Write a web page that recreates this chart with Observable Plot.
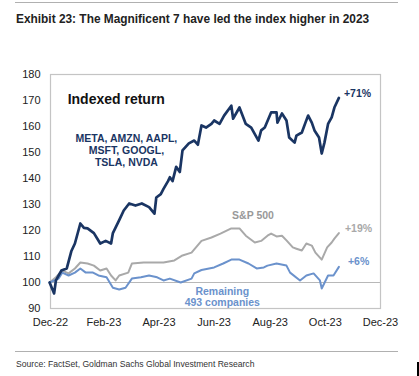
<!DOCTYPE html>
<html>
<head>
<meta charset="utf-8">
<script src="https://cdn.jsdelivr.net/npm/d3@7"></script>
<script src="https://cdn.jsdelivr.net/npm/@observablehq/plot@0.6"></script>
<style>
  html, body { margin: 0; padding: 0; background: #fff; }
  body { width: 419px; height: 376px; position: relative; overflow: hidden; font-family: "Liberation Sans", Arial, sans-serif; }
  #topRule { position: absolute; left: 15px; top: 2px; width: 383px; height: 0; border-top: 1px solid #b0b0b0; }
  #title { position: absolute; left: 16px; top: 12px; font-family: "Liberation Sans", Arial, sans-serif; font-weight: bold; font-size: 12px; color: #222; white-space: nowrap; transform: scaleX(0.99); transform-origin: left top; }
  #chart { position: absolute; left: 0; top: 30px; }
  #botRule { position: absolute; left: 15px; top: 351px; width: 383px; height: 0; border-top: 1px solid #b0b0b0; }
  #source { position: absolute; left: 16px; top: 358px; font-family: "Liberation Sans", Arial, sans-serif; font-size: 9.5px; color: #333; white-space: nowrap; transform: scaleX(0.905); transform-origin: left top; }
  #edge { position: absolute; left: 417px; top: 362px; width: 2px; height: 14px; background: #000; }
</style>
</head>
<body>
<div id="topRule"></div>
<div id="title">Exhibit 23: The Magnificent 7 have led the index higher in 2023</div>
<div id="chart"></div>
<div id="botRule"></div>
<div id="source">Source: FactSet, Goldman Sachs Global Investment Research</div>
<div id="edge"></div>
<script>
// ---- data ----
const mag7Dates = ["2022-12-30","2023-01-04","2023-01-06","2023-01-12","2023-01-18","2023-01-23","2023-01-27","2023-02-02","2023-02-06","2023-02-10","2023-02-17","2023-02-24","2023-03-02","2023-03-08","2023-03-10","2023-03-17","2023-03-22","2023-03-28","2023-04-04","2023-04-11","2023-04-19","2023-04-25","2023-04-27","2023-05-02","2023-05-05","2023-05-10","2023-05-12","2023-05-15","2023-05-19","2023-05-23","2023-05-26","2023-06-02","2023-06-08","2023-06-12","2023-06-16","2023-06-21","2023-06-27","2023-06-30","2023-07-06","2023-07-11","2023-07-19","2023-07-21","2023-07-28","2023-08-04","2023-08-10","2023-08-18","2023-08-21","2023-08-25","2023-09-01","2023-09-07","2023-09-08","2023-09-13","2023-09-18","2023-09-21","2023-09-27","2023-09-29","2023-10-05","2023-10-09","2023-10-12","2023-10-16","2023-10-19","2023-10-24","2023-10-27","2023-10-30","2023-11-03","2023-11-07","2023-11-10","2023-11-15"];
const mag7Values = [100,95.8,100.8,104.6,105.4,112,115,122.7,121,120.8,119,115,116,115,119,124,127.7,130.4,129.6,130.4,129,126.5,132.7,134,136,139,140.5,139,144.5,142.5,150.8,153.5,154.6,153,160.4,159.6,161,162.3,161,164.2,168,163,167.3,161,159.6,154.6,158.5,159.6,165.4,165.4,161.5,165,162.3,155.8,153.8,156.5,157.7,161.5,164.2,161.5,158.5,155.8,149.6,153.8,161,163.5,167.3,171];

const spxDates = ["2022-12-30","2023-01-06","2023-01-13","2023-01-20","2023-01-27","2023-02-02","2023-02-10","2023-02-17","2023-02-24","2023-03-03","2023-03-08","2023-03-13","2023-03-17","2023-03-27","2023-03-31","2023-04-13","2023-04-24","2023-05-05","2023-05-17","2023-05-26","2023-06-05","2023-06-16","2023-06-27","2023-07-07","2023-07-19","2023-07-28","2023-08-04","2023-08-14","2023-08-21","2023-08-28","2023-09-01","2023-09-07","2023-09-13","2023-09-18","2023-09-25","2023-09-29","2023-10-05","2023-10-10","2023-10-16","2023-10-20","2023-10-27","2023-11-02","2023-11-07","2023-11-10","2023-11-15"];
const spxValues = [100,102,104.6,103.5,105.4,107.7,107.3,106.5,104.6,105.4,102.7,100.8,102.7,103.8,107.3,107.7,107.7,107.7,108.5,110.4,111.5,116,117.3,118.8,120.8,120.8,118,115.4,116,118,118.8,117.7,118,116.2,113.5,113,112.3,115,114.2,111.5,108.8,113.5,115.4,116.9,119];

const restDates = ["2022-12-30","2023-01-09","2023-01-13","2023-01-20","2023-01-27","2023-02-02","2023-02-08","2023-02-16","2023-02-22","2023-03-03","2023-03-10","2023-03-17","2023-03-24","2023-03-31","2023-04-10","2023-04-19","2023-04-28","2023-05-05","2023-05-12","2023-05-24","2023-06-05","2023-06-08","2023-06-16","2023-06-30","2023-07-10","2023-07-19","2023-07-28","2023-08-07","2023-08-16","2023-08-24","2023-08-28","2023-09-07","2023-09-18","2023-09-22","2023-10-03","2023-10-10","2023-10-18","2023-10-25","2023-10-27","2023-11-03","2023-11-09","2023-11-15"];
const restValues = [100,101.5,103.8,102.7,103.8,105.4,103.8,103.8,102.7,102,98,97.3,98,101.5,102,102.7,102,100.8,101.5,100,101.5,103.5,104.8,105.8,107.3,108.8,108.8,107.3,105.4,105.8,106.5,107.3,106.5,103.8,100.8,102.7,103.5,100.8,97.7,102.7,102.7,106];

const xTickDates = ["2022-12-31","2023-02-28","2023-04-30","2023-06-30","2023-08-31","2023-10-31","2023-12-31"];
const yTicks = [90,100,110,120,130,140,150,160,170,180];
const endLabels = ["+71%", "+19%", "+6%"];

// annotation positions (data space) and texts
const titleNote = {date: "2023-01-19", value: 170.4, text: "Indexed return"};
const mag7Note = {date: "2023-03-25", value: 150.8, text: "META, AMZN, AAPL,\nMSFT, GOOGL,\nTSLA, NVDA"};
const spxNote = {date: "2023-08-12", value: 125.8, text: "S&P 500"};
const restNote = {date: "2023-07-09", value: 94.4, text: "Remaining\n493 companies"};

// ---- build ----
const parse = d3.utcParse("%Y-%m-%d");
const mk = (dates, values) => dates.map((d, i) => ({date: parse(d), value: values[i]}));
const mag7 = mk(mag7Dates, mag7Values);
const spx = mk(spxDates, spxValues);
const rest = mk(restDates, restValues);

const navy = "#1a3563", grey = "#a9a9a9", light = "#6b92cc";
const notePt = n => [{date: parse(n.date), value: n.value, text: n.text}];
const lastPt = (arr, label) => [{...arr[arr.length - 1], text: label}];

const chart = Plot.plot({
  width: 419,
  height: 305,
  marginLeft: 50,
  marginRight: 39,
  marginTop: 44,
  marginBottom: 27,
  style: {fontFamily: "'Liberation Sans', Arial, sans-serif", fontSize: "11px", color: "#222", background: "#fff"},
  x: {type: "utc", domain: [parse(xTickDates[0]), parse(xTickDates[xTickDates.length - 1])]},
  y: {domain: [90, 180]},
  marks: [
    Plot.ruleY([100], {stroke: "#b8b8b8", strokeWidth: 1}),
    Plot.frame({stroke: "#c4c4c4", strokeWidth: 1.2}),
    Plot.axisY({ticks: yTicks, tickSize: 0, tickPadding: 10, label: null, fontSize: 11}),
    Plot.axisX({ticks: xTickDates.map(parse), tickFormat: d3.utcFormat("%b-%y"), tickSize: 0, tickPadding: 10, label: null, fontSize: 11}),
    Plot.line(spx, {x: "date", y: "value", stroke: grey, strokeWidth: 2, curve: "linear"}),
    Plot.line(rest, {x: "date", y: "value", stroke: light, strokeWidth: 2, curve: "linear"}),
    Plot.line(mag7, {x: "date", y: "value", stroke: navy, strokeWidth: 2.7, curve: "linear"}),
    Plot.text(lastPt(mag7, endLabels[0]), {x: "date", y: "value", text: "text", textAnchor: "start", dx: 5, dy: -4, fill: navy, fontWeight: "bold", fontSize: 10.5}),
    Plot.text(lastPt(spx, endLabels[1]), {x: "date", y: "value", text: "text", textAnchor: "start", dx: 6, dy: -4, fill: grey, fontWeight: "bold", fontSize: 10.5}),
    Plot.text(lastPt(rest, endLabels[2]), {x: "date", y: "value", text: "text", textAnchor: "start", dx: 9, dy: -5, fill: light, fontWeight: "bold", fontSize: 10.5}),
    Plot.text(notePt(titleNote), {x: "date", y: "value", text: "text", textAnchor: "start", fill: "#111", fontWeight: "bold", fontSize: 14}),
    Plot.text(notePt(mag7Note), {x: "date", y: "value", text: "text", textAnchor: "middle", lineHeight: 1.15, fill: navy, fontWeight: "bold", fontSize: 10.5}),
    Plot.text(notePt(spxNote), {x: "date", y: "value", text: "text", textAnchor: "middle", fill: "#999", fontWeight: "bold", fontSize: 10.5}),
    Plot.text(notePt(restNote), {x: "date", y: "value", text: "text", textAnchor: "middle", lineHeight: 1.05, fill: light, fontWeight: "bold", fontSize: 10.5})
  ]
});
document.getElementById("chart").appendChild(chart);
</script>
</body>
</html>
